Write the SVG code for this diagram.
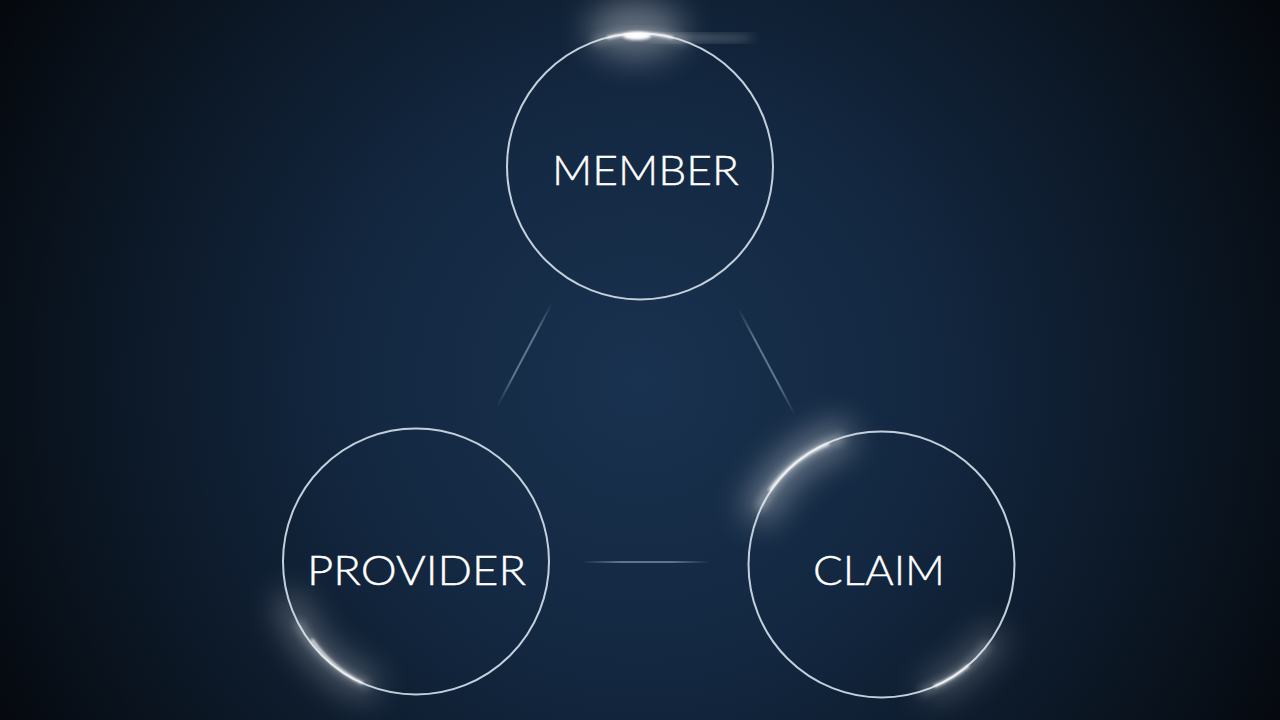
<svg xmlns="http://www.w3.org/2000/svg" width="1280" height="720" viewBox="0 0 1280 720">
  <defs>
    <radialGradient id="bg" cx="640" cy="380" r="740" gradientUnits="userSpaceOnUse">
      <stop offset="0" stop-color="#19324f"/>
      <stop offset="0.4" stop-color="#132740"/>
      <stop offset="0.75" stop-color="#0b1623"/>
      <stop offset="1" stop-color="#05080d"/>
    </radialGradient>
    <linearGradient id="lnL" x1="552" y1="303" x2="497" y2="407" gradientUnits="userSpaceOnUse">
      <stop offset="0" stop-color="#7d95ad" stop-opacity="0"/>
      <stop offset="0.3" stop-color="#7d95ad" stop-opacity="0.7"/>
      <stop offset="0.7" stop-color="#7d95ad" stop-opacity="0.7"/>
      <stop offset="1" stop-color="#7d95ad" stop-opacity="0"/>
    </linearGradient>
    <linearGradient id="lnR" x1="738" y1="308" x2="795" y2="415" gradientUnits="userSpaceOnUse">
      <stop offset="0" stop-color="#7d95ad" stop-opacity="0"/>
      <stop offset="0.3" stop-color="#7d95ad" stop-opacity="0.7"/>
      <stop offset="0.7" stop-color="#7d95ad" stop-opacity="0.7"/>
      <stop offset="1" stop-color="#7d95ad" stop-opacity="0"/>
    </linearGradient>
    <linearGradient id="lnB" x1="582" y1="562" x2="710" y2="562" gradientUnits="userSpaceOnUse">
      <stop offset="0" stop-color="#7d95ad" stop-opacity="0"/>
      <stop offset="0.3" stop-color="#7d95ad" stop-opacity="0.7"/>
      <stop offset="0.7" stop-color="#7d95ad" stop-opacity="0.7"/>
      <stop offset="1" stop-color="#7d95ad" stop-opacity="0"/>
    </linearGradient>
    <filter id="blurBig" x="-100%" y="-100%" width="300%" height="300%">
      <feGaussianBlur stdDeviation="16"/>
    </filter>
    <filter id="blurMid" x="-100%" y="-100%" width="300%" height="300%">
      <feGaussianBlur stdDeviation="5"/>
    </filter>
    <filter id="blurSm" x="-100%" y="-100%" width="300%" height="300%">
      <feGaussianBlur stdDeviation="1.5"/>
    </filter>
  </defs>
  <style>
    .ring { fill: none; stroke: #c3d0dc; stroke-width: 2; }
    .label { font-family: "Lato", "Open Sans", "Liberation Sans", sans-serif; font-weight: 300; font-size: 41px; fill: #ffffff; text-anchor: middle; stroke: #ffffff; stroke-width: 0.4; }
    .hl { fill: none; stroke: #ffffff; stroke-linecap: round; }
    .conn { fill: none; stroke-width: 2; }
  </style>

  <rect width="1280" height="720" fill="url(#bg)"/>

  <g id="connectors">
    <line class="conn" x1="552" y1="303" x2="497" y2="407" stroke="url(#lnL)"/>
    <line class="conn" x1="738" y1="308" x2="795" y2="415" stroke="url(#lnR)"/>
    <line class="conn" x1="582" y1="562" x2="710" y2="562" stroke="url(#lnB)"/>
  </g>

  <g id="node-member">
    <ellipse cx="636" cy="30" rx="48" ry="28" fill="#ffffff" opacity="0.35" filter="url(#blurBig)"/>
    <ellipse cx="700" cy="38" rx="55" ry="2" fill="#ffffff" opacity="0.5" filter="url(#blurMid)"/>
    <circle class="ring" cx="640" cy="166.5" r="133"/>
    <path class="hl" d="M594.5,41.5 A133,133 0 0 1 685.5,41.5" stroke-width="4" opacity="0.5" filter="url(#blurMid)"/>
    <path class="hl" d="M608,37.5 A133,133 0 0 1 672,37.5" stroke-width="2.5" filter="url(#blurSm)"/>
    <ellipse cx="637" cy="36" rx="14" ry="4" fill="#ffffff" filter="url(#blurSm)"/>
    <text class="label" x="645.5" y="185" textLength="187" lengthAdjust="spacingAndGlyphs">MEMBER</text>
  </g>

  <g id="node-provider">
    <path d="M375,688 A133,133 0 0 1 287.5,595.9" fill="none" stroke="#ffffff" stroke-width="26" opacity="0.3" filter="url(#blurBig)"/>
    <circle class="ring" cx="416" cy="561.5" r="133"/>
    <path class="hl" d="M368,685 A133,133 0 0 1 298,622" stroke-width="4" opacity="0.6" filter="url(#blurMid)"/>
    <path class="hl" d="M362,683 A133,133 0 0 1 312,640" stroke-width="2.5" filter="url(#blurSm)"/>
    <text class="label" x="416.5" y="585" textLength="219" lengthAdjust="spacingAndGlyphs">PROVIDER</text>
  </g>

  <g id="node-claim">
    <path d="M756.5,519 A133,133 0 0 1 850,435" fill="none" stroke="#ffffff" stroke-width="30" opacity="0.38" filter="url(#blurBig)"/>
    <path d="M996.7,631 A133,133 0 0 1 925,690" fill="none" stroke="#ffffff" stroke-width="22" opacity="0.28" filter="url(#blurBig)"/>
    <circle class="ring" cx="881.5" cy="564.5" r="133"/>
    <path class="hl" d="M760,508 A133,133 0 0 1 842,438" stroke-width="5" opacity="0.6" filter="url(#blurMid)"/>
    <path class="hl" d="M770,490 A133,133 0 0 1 828,444" stroke-width="2.5" filter="url(#blurSm)"/>
    <path class="hl" d="M988,644 A133,133 0 0 1 922,691" stroke-width="4" opacity="0.55" filter="url(#blurMid)"/>
    <path class="hl" d="M968,666 A133,133 0 0 1 935,686" stroke-width="2.5" filter="url(#blurSm)"/>
    <text class="label" x="879" y="585" textLength="132" lengthAdjust="spacingAndGlyphs">CLAIM</text>
  </g>
</svg>
